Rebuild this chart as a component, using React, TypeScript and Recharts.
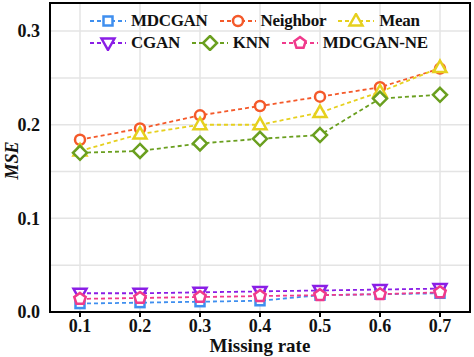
import React from 'react';
import { LineChart, Line, XAxis, YAxis, CartesianGrid, ReferenceArea } from 'recharts';

const rates = [0.1, 0.2, 0.3, 0.4, 0.5, 0.6, 0.7];
const mdcgan = [0.009, 0.01, 0.011, 0.012, 0.018, 0.019, 0.02];
const neighbor = [0.184, 0.196, 0.21, 0.22, 0.23, 0.24, 0.26];
const mean = [0.172, 0.19, 0.2, 0.2, 0.213, 0.235, 0.261];
const cgan = [0.02, 0.02, 0.021, 0.022, 0.023, 0.024, 0.025];
const knn = [0.17, 0.172, 0.18, 0.185, 0.189, 0.228, 0.232];
const mdcganNe = [0.014, 0.015, 0.016, 0.017, 0.018, 0.019, 0.021];

const xTicks = [0.1, 0.2, 0.3, 0.4, 0.5, 0.6, 0.7];
const yTicks = [0, 0.1, 0.2, 0.3];
const yGrid = [0.05, 0.1, 0.15, 0.2, 0.25, 0.3];

const FONT = "'Liberation Serif', Tinos, 'DejaVu Serif', serif";

type Shape = 'square' | 'circle' | 'up' | 'down' | 'diamond' | 'pentagon';

const series: { key: string; name: string; color: string; shape: Shape; values: number[] }[] = [
  { key: 'mdcgan', name: 'MDCGAN', color: '#3f8fef', shape: 'square', values: mdcgan },
  { key: 'neighbor', name: 'Neighbor', color: '#f4592a', shape: 'circle', values: neighbor },
  { key: 'mean', name: 'Mean', color: '#e6d01e', shape: 'up', values: mean },
  { key: 'cgan', name: 'CGAN', color: '#8a1ee6', shape: 'down', values: cgan },
  { key: 'knn', name: 'KNN', color: '#6a9f1f', shape: 'diamond', values: knn },
  { key: 'mdcganNe', name: 'MDCGAN-NE', color: '#f03a8c', shape: 'pentagon', values: mdcganNe },
];

const data = rates.map((r, i) => {
  const row: Record<string, number> = { rate: r };
  series.forEach(s => { row[s.key] = s.values[i]; });
  return row;
});

const Marker = ({ cx, cy, shape, color }: { cx: number; cy: number; shape: Shape; color: string }) => {
  const common = { fill: '#fff', stroke: color, strokeWidth: 2.5 };
  switch (shape) {
    case 'square':
      return <rect x={cx - 4.5} y={cy - 4.5} width={9} height={9} {...common} />;
    case 'circle':
      return <circle cx={cx} cy={cy} r={5} {...common} />;
    case 'up':
      return <polygon points={`${cx},${cy - 7} ${cx + 6.5},${cy + 4.5} ${cx - 6.5},${cy + 4.5}`} {...common} />;
    case 'down':
      return <polygon points={`${cx},${cy + 7} ${cx + 6.5},${cy - 4.5} ${cx - 6.5},${cy - 4.5}`} {...common} />;
    case 'diamond':
      return <polygon points={`${cx},${cy - 7} ${cx + 7},${cy} ${cx},${cy + 7} ${cx - 7},${cy}`} {...common} />;
    default: {
      const pts = [0, 1, 2, 3, 4].map(k => {
        const a = -Math.PI / 2 + (k * 2 * Math.PI) / 5;
        return `${cx + 6 * Math.cos(a)},${cy + 6 * Math.sin(a)}`;
      }).join(' ');
      return <polygon points={pts} {...common} />;
    }
  }
};

const LegendItem = ({ s }: { s: typeof series[number] }) => (
  <div style={{ display: 'flex', alignItems: 'center', marginRight: 11 }}>
    <svg width={38} height={16} style={{ marginRight: 4 }}>
      <line x1={1} y1={8} x2={37} y2={8} stroke={s.color} strokeWidth={1.8} strokeDasharray="4 3" />
      <Marker cx={19} cy={8} shape={s.shape} color={s.color} />
    </svg>
    <span>{s.name}</span>
  </div>
);

// legend is drawn as an overlay so it does not eat plot height
const CustomLegend = () => (
  <div style={{
    position: 'absolute', left: 89, top: 10, fontFamily: FONT, fontWeight: 'bold',
    fontSize: 17, color: '#111', lineHeight: '22px', letterSpacing: -0.3,
  }}>
    <div style={{ display: 'flex', height: 22 }}>
      {series.slice(0, 3).map(s => <LegendItem key={s.key} s={s} />)}
    </div>
    <div style={{ display: 'flex', height: 22 }}>
      {series.slice(3).map(s => <LegendItem key={s.key} s={s} />)}
    </div>
  </div>
);

export default function App() {
  return (
    <div style={{ position: 'absolute', left: 0, top: 0, width: 474, height: 357, background: '#fff' }}>
      <LineChart width={474} height={357} data={data} margin={{ top: 3, right: 4, left: 0, bottom: 0 }}>
        <CartesianGrid
          stroke="#e4e4e4"
          strokeWidth={1.5}
          horizontalValues={yGrid}
          verticalValues={xTicks}
        />
        <XAxis
          dataKey="rate"
          type="number"
          domain={[0.05, 0.75]}
          ticks={xTicks}
          tickFormatter={(v: number) => v.toFixed(1)}
          height={45}
          axisLine={{ stroke: '#000', strokeWidth: 2 }}
          tickLine={{ stroke: '#000', strokeWidth: 2 }}
          tickSize={5}
          tick={{ fill: '#111', fontSize: 18, fontWeight: 'bold', fontFamily: FONT }}
          label={(props: any) => {
            const vb = props.viewBox;
            return (
              <text x={vb.x + vb.width / 2} y={vb.y + vb.height - 5} textAnchor="middle"
                fontFamily={FONT} fontWeight="bold" fontSize={19} fill="#111">Missing rate</text>
            );
          }}
        />
        <YAxis
          type="number"
          domain={[0, 0.33]}
          ticks={yTicks}
          tickFormatter={(v: number) => v.toFixed(1)}
          width={50}
          axisLine={{ stroke: '#000', strokeWidth: 2 }}
          tickLine={false}
          tickMargin={4}
          tick={{ fill: '#111', fontSize: 18, fontWeight: 'bold', fontFamily: FONT }}
          label={(props: any) => {
            const vb = props.viewBox;
            const cx = vb.x + 18;
            const cy = vb.y + vb.height / 2 + 3;
            return (
              <text x={cx} y={cy} textAnchor="middle" transform={`rotate(-90 ${cx} ${cy})`}
                fontFamily={FONT} fontWeight="bold" fontStyle="italic" fontSize={18} fill="#111">MSE</text>
            );
          }}
        />
        <ReferenceArea x1={0.05} x2={0.75} y1={0} y2={0.33} fill="none" stroke="#000" strokeWidth={2} />
        {series.map(s => (
          <Line
            key={s.key}
            dataKey={s.key}
            name={s.name}
            stroke={s.color}
            strokeWidth={1.8}
            strokeDasharray="4 3"
            isAnimationActive={false}
            dot={(p: any) => <Marker key={`${s.key}-${p.index}`} cx={p.cx} cy={p.cy} shape={s.shape} color={s.color} />}
            activeDot={false}
          />
        ))}
      </LineChart>
      <CustomLegend />
    </div>
  );
}
